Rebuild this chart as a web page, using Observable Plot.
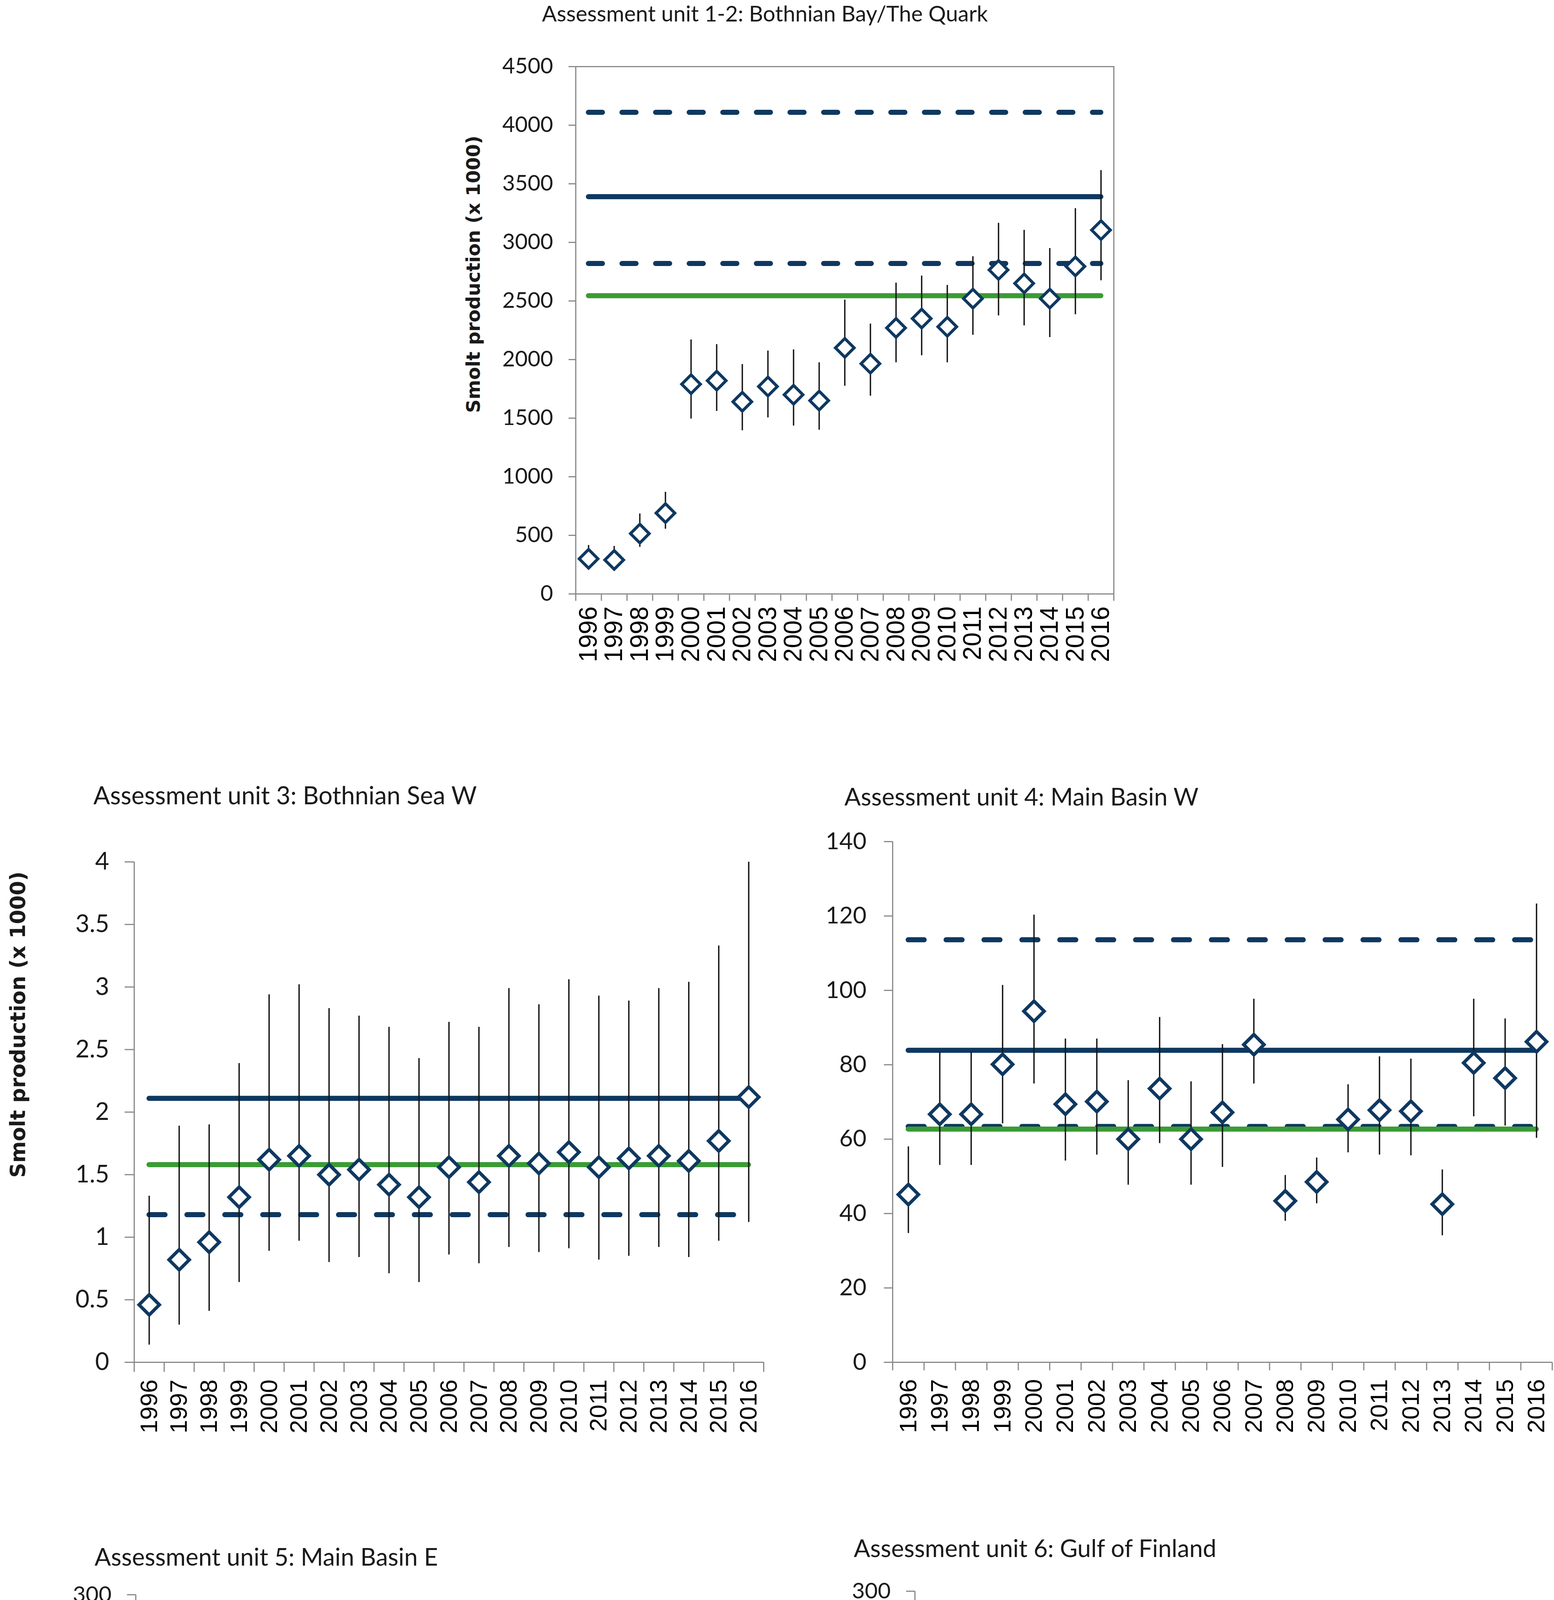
<!DOCTYPE html>
<html>
<head>
<meta charset="utf-8">
<script src="https://cdn.jsdelivr.net/npm/d3@7"></script>
<script src="https://cdn.jsdelivr.net/npm/@observablehq/plot@0.6"></script>
<style>
html, body { margin: 0; padding: 0; background: #ffffff; }
#page { position: relative; width: 3977px; height: 5304px; overflow: hidden; background: #ffffff; }
.title { position: absolute; font-family: Lato, "Open Sans", sans-serif; color: #1a1a1a; white-space: nowrap; line-height: 1; }
.ylab { position: absolute; font-family: "DejaVu Sans", sans-serif; font-weight: bold; color: #1a1a1a; white-space: nowrap; line-height: 1; transform: translate(-50%, -50%) rotate(-90deg); }
</style>
</head>
<body>
<div id="page"></div>
<script>
// ---------- data ----------
const years = [1996, 1997, 1998, 1999, 2000, 2001, 2002, 2003, 2004, 2005, 2006,
               2007, 2008, 2009, 2010, 2011, 2012, 2013, 2014, 2015, 2016];

// Assessment unit 1-2: Bothnian Bay/The Quark
const u12Estimate = [300, 290, 515, 690, 1790, 1820, 1640, 1770, 1700, 1650, 2100, 1965, 2270, 2350, 2280, 2520, 2765, 2650, 2520, 2795, 3105];
const u12Lower    = [230, 220, 400, 555, 1495, 1560, 1395, 1505, 1435, 1400, 1775, 1690, 1975, 2035, 1975, 2210, 2375, 2290, 2190, 2385, 2675];
const u12Upper    = [416, 408, 685, 870, 2170, 2130, 1960, 2075, 2085, 1975, 2510, 2305, 2655, 2715, 2635, 2880, 3165, 3105, 2950, 3290, 3615];
const u12Reference = [3390];
const u12Limits    = [4110, 2820];
const u12Threshold = [2545];
const u12YTicks = [0, 500, 1000, 1500, 2000, 2500, 3000, 3500, 4000, 4500];

// Assessment unit 3: Bothnian Sea W
const u3Estimate = [0.46, 0.82, 0.96, 1.32, 1.62, 1.65, 1.50, 1.54, 1.42, 1.32, 1.56, 1.44, 1.65, 1.59, 1.68, 1.56, 1.63, 1.65, 1.61, 1.77, 2.12];
const u3Lower    = [0.14, 0.30, 0.41, 0.64, 0.89, 0.97, 0.80, 0.84, 0.71, 0.64, 0.86, 0.79, 0.92, 0.88, 0.91, 0.82, 0.85, 0.92, 0.84, 0.97, 1.12];
const u3Upper    = [1.33, 1.89, 1.90, 2.39, 2.94, 3.02, 2.83, 2.77, 2.68, 2.43, 2.72, 2.68, 2.99, 2.86, 3.06, 2.93, 2.89, 2.99, 3.04, 3.33, 4.00];
const u3Reference = [2.11];
const u3Limits    = [1.18];
const u3Threshold = [1.58];
const u3YTicks = [0, 0.5, 1, 1.5, 2, 2.5, 3, 3.5, 4];

// Assessment unit 4: Main Basin W
const u4Estimate = [45.1, 66.7, 66.7, 80.1, 94.4, 69.4, 70.1, 60.0, 73.6, 60.0, 67.2, 85.4, 43.4, 48.5, 65.3, 67.8, 67.5, 42.5, 80.5, 76.4, 86.2];
const u4Lower    = [34.7, 53.0, 53.0, 64.2, 74.9, 54.2, 55.8, 47.7, 58.9, 47.7, 52.5, 74.9, 38.0, 42.7, 56.4, 55.8, 55.6, 34.1, 66.1, 63.6, 60.3];
const u4Upper    = [58.0, 83.4, 83.4, 101.4, 120.3, 87.0, 87.0, 75.8, 92.8, 75.5, 85.5, 97.7, 50.3, 55.0, 74.7, 82.2, 81.6, 51.8, 97.7, 92.4, 123.3];
const u4Reference = [83.9];
const u4Limits    = [113.6, 63.4];
const u4Threshold = [62.7];
const u4YTicks = [0, 20, 40, 60, 80, 100, 120, 140];

// Assessment unit 5: Main Basin E
const u5Estimate = [47.5, 52.2, 57.9, 46.5, 37.7, 87.3, 89.4, 79.8, 58.9, 79.8, 77.0, 56.3, 68.7, 95.9, 86.6, 34.1, 52.2, 47.5, 34.1, 84.8, 106.7];
const u5Reference = [285.0];
const u5Threshold = [213.7];
const u5YTicks = [0, 50, 100, 150, 200, 250, 300];

// Assessment unit 6: Gulf of Finland
const u6Years    = [2000, 2001, 2002, 2003, 2004, 2005, 2006, 2007, 2008, 2009, 2010, 2011, 2012, 2013, 2014, 2015, 2016];
const u6Estimate = [20.8, 25.4, 30.2, 34.6, 21.8, 14.9, 47.9, 56.4, 28.4, 30.7, 50.7, 41.8, 48.9, 29.0, 62.3, 59.2, 65.3];
const u6LineYears  = [1996, 2015, 2016];
const u6Reference  = [251.3, 251.3, 252.4];
const u6Threshold  = [188.8, 188.8, 189.9];
const u6YTicks = [0, 50, 100, 150, 200, 250, 300];

// ---------- styles ----------
const navy = "#0e3860";
const green = "#3b9b35";
const axisGray = "#8a8a8a";
const barColor = "#161616";
const textColor = "#1a1a1a";

const diamondSymbol = {
  draw(ctx, size) {
    const r = Math.sqrt(size / Math.PI);
    ctx.moveTo(0, -r); ctx.lineTo(r, 0); ctx.lineTo(0, r); ctx.lineTo(-r, 0); ctx.closePath();
  }
};

const page = document.getElementById("page");

function addTitle(text, x, cy, size) {
  const d = document.createElement("div");
  d.className = "title";
  d.textContent = text;
  d.style.left = x + "px";
  d.style.top = Math.max(6, cy - size * 0.52) + "px";
  d.style.fontSize = size + "px";
  page.appendChild(d);
}

function addYLabel(text, cx, cy, size) {
  const d = document.createElement("div");
  d.className = "ylab";
  d.textContent = text;
  d.style.left = cx + "px";
  d.style.top = cy + "px";
  d.style.fontSize = size + "px";
  page.appendChild(d);
}

function panel(o) {
  const mL = 320, mR = 40, mT = 40, mB = 240;
  const width = o.right - o.left + mL + mR;
  const height = o.bottom - o.top + mT + mB;
  const first = years[0], last = years[years.length - 1];
  const bounds = years.map(y => y - 0.5).concat([last + 0.5]);
  const yMax = o.yTicks[o.yTicks.length - 1];

  const marks = [];
  // axis lines
  if (o.frame) marks.push(Plot.frame({stroke: axisGray, strokeWidth: 3}));
  marks.push(Plot.ruleX([bounds[0]], {stroke: axisGray, strokeWidth: 3}));
  marks.push(Plot.ruleY([o.yTicks[0]], {stroke: axisGray, strokeWidth: 3}));

  // reference lines
  const lw = o.lineWidth;
  if (o.limits) marks.push(Plot.ruleY(o.limits, {x1: first, x2: last, stroke: navy, strokeWidth: lw,
      strokeLinecap: "round", strokeDasharray: o.dash}));
  if (o.threshold) marks.push(Plot.ruleY(o.threshold, {x1: first, x2: last, stroke: green, strokeWidth: lw, strokeLinecap: "round"}));
  if (o.reference) marks.push(Plot.ruleY(o.reference, {x1: first, x2: last, stroke: navy, strokeWidth: lw, strokeLinecap: "round"}));
  if (o.lines) for (const L of o.lines) marks.push(Plot.line(L.data, {x: "year", y: "value", stroke: L.color,
      strokeWidth: lw, strokeLinecap: "round", curve: "linear"}));

  // error bars (drawn over the reference lines)
  if (o.lower) {
    const bars = o.yearsData.map((y, i) => ({year: y, lo: o.lower[i], hi: o.upper[i]}));
    marks.push(Plot.ruleX(bars, {x: "year", y1: "lo", y2: "hi", stroke: barColor, strokeWidth: 3.5}));
  }

  // estimates
  const pts = o.yearsData.map((y, i) => ({year: y, value: o.estimate[i]}));
  marks.push(Plot.dot(pts, {x: "year", y: "value", symbol: diamondSymbol, r: o.r, stroke: navy,
      strokeWidth: o.sw, fill: "white", strokeLinejoin: "miter"}));

  // axes
  marks.push(Plot.axisY({ticks: o.yTicks, tickFormat: d => String(d), tickSize: o.yTickSize, tickPadding: o.yPad,
      fontSize: o.yFont, fontFamily: "Lato", stroke: axisGray, strokeWidth: 3, fill: textColor, label: null}));
  marks.push(Plot.axisX({ticks: bounds, tickFormat: () => "", tickSize: o.xTickSize, stroke: axisGray,
      strokeWidth: 3, label: null}));
  marks.push(Plot.axisX({ticks: years, tickFormat: d => String(d), tickSize: 0, tickPadding: o.xPad, tickRotate: -90,
      fontSize: o.xFont, fontFamily: "Liberation Sans", fill: "#000", label: null}));

  const svg = Plot.plot({
    width, height,
    marginLeft: mL, marginRight: mR, marginTop: mT, marginBottom: mB,
    x: {type: "linear", domain: [bounds[0], bounds[bounds.length - 1]]},
    y: {type: "linear", domain: [o.yTicks[0], yMax]},
    style: {background: "transparent", overflow: "visible", maxWidth: "none"},
    marks
  });
  svg.style.position = "absolute";
  svg.style.left = (o.left - mL) + "px";
  svg.style.top = (o.top - mT) + "px";
  page.appendChild(svg);
}

// ---------- panels ----------
panel({left: 1473, right: 2850, top: 170, bottom: 1520, frame: true,
  yTicks: u12YTicks, yearsData: years, estimate: u12Estimate, lower: u12Lower, upper: u12Upper,
  reference: u12Reference, limits: u12Limits, threshold: u12Threshold,
  lineWidth: 13, dash: "36,50", r: 24, sw: 7.5,
  yTickSize: 18, yPad: 40, yFont: 56, xTickSize: 18, xPad: 32, xFont: 64});
addTitle("Assessment unit 1-2: Bothnian Bay/The Quark", 1387, 27, 56);
addYLabel("Smolt production (x 1000)", 1211, 702, 48);

panel({left: 343, right: 1954, top: 2206, bottom: 3487,
  yTicks: u3YTicks, yearsData: years, estimate: u3Estimate, lower: u3Lower, upper: u3Upper,
  reference: u3Reference, limits: u3Limits, threshold: u3Threshold,
  lineWidth: 13, dash: "41,56", r: 26, sw: 8.5,
  yTickSize: 24, yPad: 40, yFont: 62, xTickSize: 25, xPad: 44, xFont: 62});
addTitle("Assessment unit 3: Bothnian Sea W", 239, 2036, 63);
addYLabel("Smolt production (x 1000)", 45, 2623, 53);

panel({left: 2284, right: 3972, top: 2154, bottom: 3487,
  yTicks: u4YTicks, yearsData: years, estimate: u4Estimate, lower: u4Lower, upper: u4Upper,
  reference: u4Reference, limits: u4Limits, threshold: u4Threshold,
  lineWidth: 13, dash: "41,56", r: 26, sw: 8.5,
  yTickSize: 22, yPad: 45, yFont: 60, xTickSize: 21, xPad: 43, xFont: 62});
addTitle("Assessment unit 4: Main Basin W", 2161, 2039, 62);

panel({left: 347, right: 1886, top: 4082, bottom: 5121,
  yTicks: u5YTicks, yearsData: years, estimate: u5Estimate,
  reference: u5Reference, threshold: u5Threshold,
  lineWidth: 11, r: 25, sw: 8,
  yTickSize: 22, yPad: 40, yFont: 57, xTickSize: 23, xPad: 41, xFont: 60});
addTitle("Assessment unit 5: Main Basin E", 242, 3985, 62);
addYLabel("Smolt production (x 1000)", 32, 4587, 50);

panel({left: 2341, right: 3783, top: 4073, bottom: 5120,
  yTicks: u6YTicks, yearsData: u6Years, estimate: u6Estimate,
  lines: [
    {color: green, data: u6LineYears.map((y, i) => ({year: y, value: u6Threshold[i]}))},
    {color: navy, data: u6LineYears.map((y, i) => ({year: y, value: u6Reference[i]}))}
  ],
  lineWidth: 11, r: 25, sw: 8,
  yTickSize: 22, yPad: 40, yFont: 57, xTickSize: 23, xPad: 42, xFont: 60});
addTitle("Assessment unit 6: Gulf of Finland", 2185, 3963, 62);
</script>
</body>
</html>
